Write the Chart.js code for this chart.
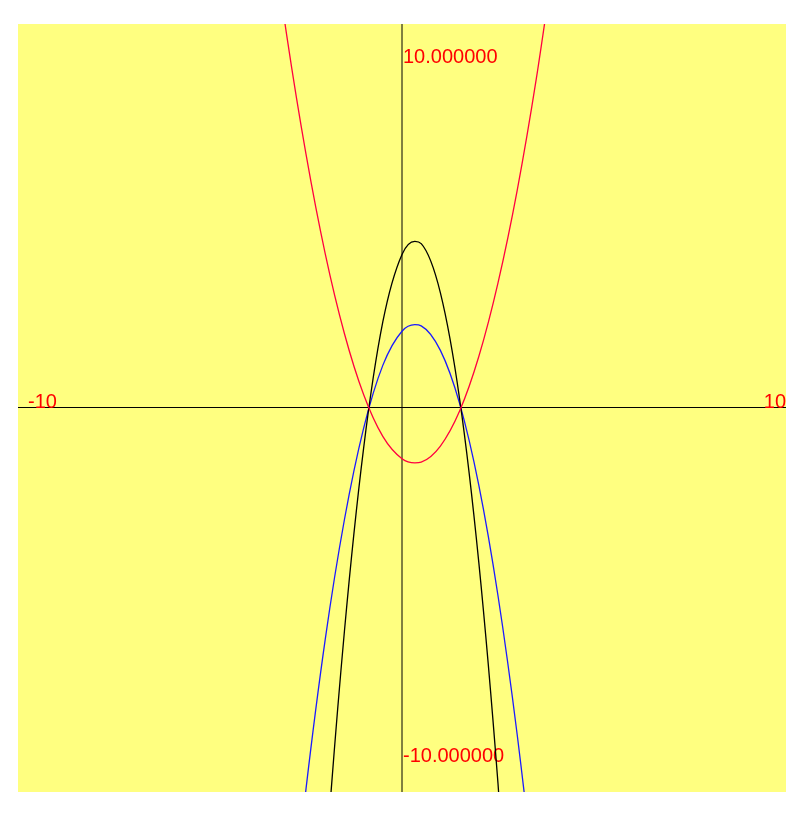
<!DOCTYPE html>
<html>
<head>
<meta charset="utf-8">
<script src="https://cdn.jsdelivr.net/npm/chart.js@4/dist/chart.umd.min.js"></script>
<style>
    html, body { margin: 0; padding: 0; background: #fff; }
    canvas { display: block; }
</style>
</head>
<body>
<canvas id="plotChart" width="804" height="818"></canvas>
<script>
// values
var redX   = [-3.5, -3, -2.5, -2, -1.5, -1, -0.5, 0, 0.335, 0.5, 1, 1.5, 2, 2.5, 3, 3.5, 4];
var redY   = [13.28, 9.69, 6.61, 4.02, 1.94, 0.35, -0.74, -1.32, -1.43, -1.41, -0.99, -0.08, 1.34, 3.26, 5.67, 8.59, 12.0];

var blueX  = [-3, -2.5, -2, -1.5, -1, -0.5, 0, 0.335, 0.5, 1, 1.5, 2, 2.5, 3, 3.5, 4];
var blueY  = [-14.54, -9.92, -6.03, -2.91, -0.53, 1.11, 2.0, 2.17, 2.14, 1.5, 0.12, -2.01, -4.89, -8.51, -12.89, -18.0];

var blackX = [-2.5, -2, -1.5, -1, -0.5, 0, 0.335, 0.5, 1, 1.5, 2, 2.5, 3];
var blackY = [-19.83, -12.06, -5.82, -1.05, 2.24, 4.0, 4.34, 4.28, 3.0, 0.24, -4.02, -9.78, -17.01];

var xRange = [-10, 10];
var yRange = [-10, 10];
var xLabels = ['-10', '10'];
var yLabels = ['10.000000', '-10.000000'];

function points(xs, ys) {
    var out = [];
    for (var i = 0; i < xs.length; i++) {
        out.push({x: xs[i], y: ys[i]});
    }
    return out;
}

function curve(label, xs, ys, color) {
    return {
        label: label,
        data: points(xs, ys),
        borderColor: color,
        borderWidth: 1.3,
        pointRadius: 0,
        fill: false,
        cubicInterpolationMode: 'monotone'
    };
}

// yellow plot area, axes through the origin and the red labels
var plotDecor = {
    id: 'plotDecor',
    beforeDraw: function (chart) {
        var a = chart.chartArea, ctx = chart.ctx;
        ctx.save();
        ctx.fillStyle = '#ffff80';
        ctx.fillRect(a.left, a.top, a.right - a.left, a.bottom - a.top);
        ctx.restore();
    },
    beforeDatasetsDraw: function (chart) {
        var a = chart.chartArea, ctx = chart.ctx;
        var x0 = chart.scales.x.getPixelForValue(0);
        var y0 = Math.floor(chart.scales.y.getPixelForValue(0)) - 0.5;
        ctx.save();
        ctx.strokeStyle = '#000';
        ctx.lineWidth = 1;
        ctx.beginPath();
        ctx.moveTo(a.left, y0);
        ctx.lineTo(a.right, y0);
        ctx.moveTo(x0, a.top);
        ctx.lineTo(x0, a.bottom);
        ctx.stroke();

        ctx.fillStyle = '#ff0000';
        ctx.font = '20px "Liberation Sans", Arial, sans-serif';
        ctx.textBaseline = 'alphabetic';
        ctx.textAlign = 'left';
        ctx.fillText(xLabels[0], a.left + 10, y0);
        ctx.fillText(yLabels[0], x0 + 1, a.top + 39);
        ctx.fillText(yLabels[1], x0 + 1, a.bottom - 30);
        ctx.textAlign = 'right';
        ctx.fillText(xLabels[1], a.right, y0);
        ctx.restore();
    }
};

var plotChart = new Chart(document.getElementById('plotChart'), {
    type: 'line',
    data: {
        datasets: [
            curve('red', redX, redY, '#ff0040'),
            curve('black', blackX, blackY, '#000000'),
            curve('blue', blueX, blueY, '#1a1aff')
        ]
    },
    options: {
        responsive: false,
        animation: false,
        devicePixelRatio: 1,
        layout: { padding: { left: 18, right: 18, top: 24, bottom: 26 } },
        scales: {
            x: { type: 'linear', min: xRange[0], max: xRange[1], display: false },
            y: { type: 'linear', min: yRange[0], max: yRange[1], display: false }
        },
        plugins: {
            legend: { display: false },
            tooltip: { enabled: false }
        }
    },
    plugins: [plotDecor]
});
</script>
</body>
</html>
